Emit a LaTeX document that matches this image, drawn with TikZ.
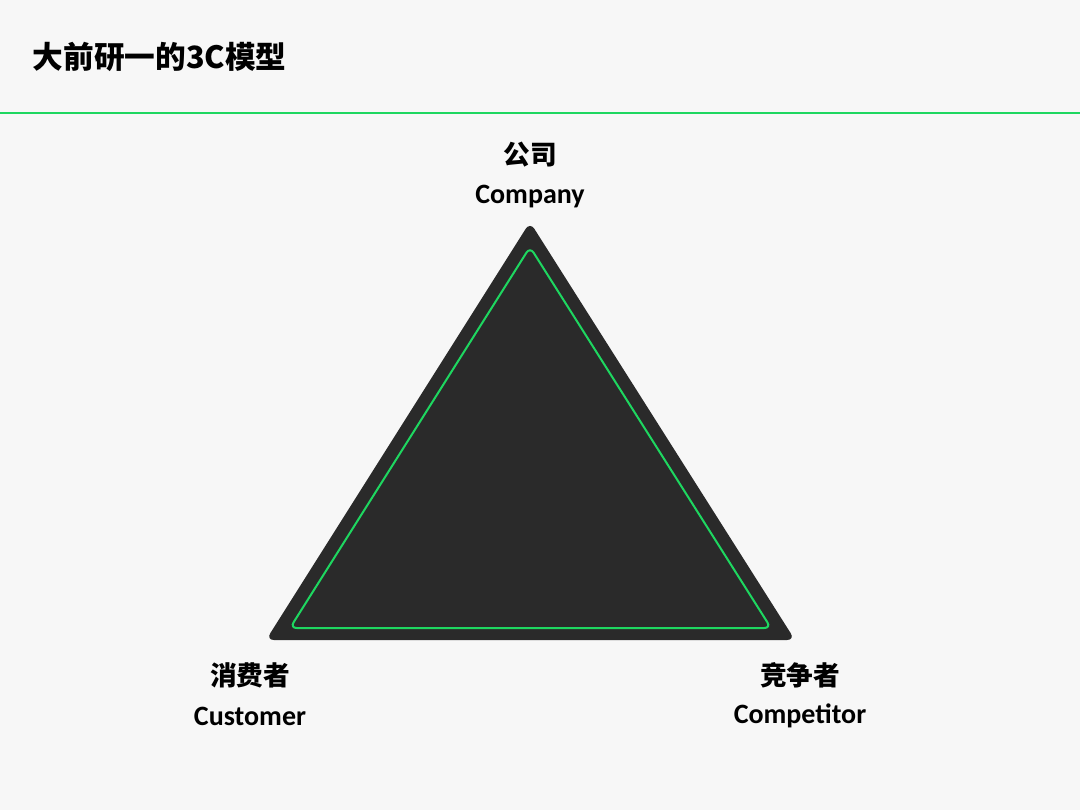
\documentclass[tikz,border=0pt]{standalone}
\usepackage{fontspec}
\setmainfont{Carlito}
\newfontfamily\cjk{Noto Sans CJK SC}
\definecolor{bg}{HTML}{F7F7F7}
\definecolor{grn}{HTML}{1ED760}
\definecolor{tri}{HTML}{2A2A2A}
\begin{document}
\begin{tikzpicture}[x=0.75pt,y=-0.75pt,
  lab/.style={font=\bfseries\fontsize{21}{24}\selectfont,text=black,align=center},
  clab/.style={font=\cjk\bfseries\fontsize{20}{24}\selectfont,text=black}]
\fill[bg] (0,0) rectangle (1080,810);
\useasboundingbox (0,0) rectangle (1080,810);
\node[anchor=west,font=\cjk\bfseries\fontsize{23}{26}\selectfont] (title) at (28,57) {大前研一的3C模型};
\coordinate (l1) at (0,113); \coordinate (l2) at (1080,113);
\draw[grn,line width=1.5pt] (l1) -- (l2);
\coordinate (A) at (530,222); \coordinate (B) at (266,640); \coordinate (C) at (795,640);
\fill[tri,rounded corners=6pt] (A) -- (C) -- (B) -- cycle;
\coordinate (a) at (530,247); \coordinate (b) at (290,628); \coordinate (c) at (771,628);
\draw[grn,line width=1.5pt,rounded corners=5pt] (a) -- (c) -- (b) -- cycle;
\node[clab] (t1) at (530,155) {公司};
\node[lab] (t2) at (530,197) {Company};
\node[clab] (l1t) at (250,675) {消费者};
\node[lab] (l2t) at (250,716) {Customer};
\node[clab] (r1t) at (800,675) {竞争者};
\node[lab] (r2t) at (800,716) {Competitor};
\end{tikzpicture}
\end{document}
